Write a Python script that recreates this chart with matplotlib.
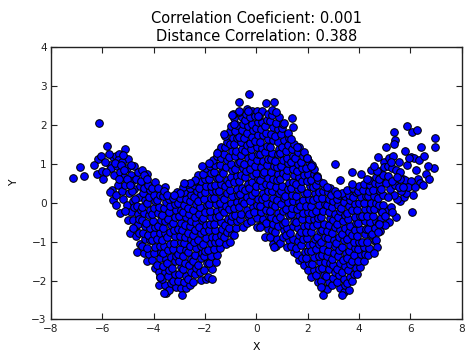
import matplotlib
matplotlib.use("Agg")
import matplotlib.pyplot as plt
import numpy as np

title_lines = ["Correlation Coeficient: 0.001", "Distance Correlation: 0.388"]
x_label = "X"
y_label = "Y"
x_ticks = [-8, -6, -4, -2, 0, 2, 4, 6, 8]
y_ticks = [-3, -2, -1, 0, 1, 2, 3, 4]

# sparse left tail
tail_left = [
    (-7.15, 0.64), (-6.87, 0.91), (-6.71, 0.68), (-6.11, 2.05), (-6.15, 1.11), (-6.19, 0.75), (-6.02, 0.82), (-5.96, 0.62),
    (-5.81, 1.45), (-5.72, 0.98), (-5.66, 0.88), (-5.58, 1.18), (-5.46, 1.21), (-5.34, 1.26), (-5.40, 1.10), (-5.11, 1.37),
    (-4.98, 1.13), (-5.22, 1.05), (-5.42, 0.95), (-5.55, 0.72), (-5.30, 0.80), (-5.15, 0.65), (-5.05, 0.88), (-4.90, 0.72),
    (-4.78, 0.95), (-4.85, 0.55), (-4.70, 0.62), (-4.62, 0.80), (-4.24, 0.73), (-4.34, 0.66), (-3.57, 0.41), (-5.63, 0.32),
    (-5.72, 0.27), (-5.57, 0.07), (-5.30, -0.26), (-5.40, 0.45), (-5.48, 0.20), (-5.25, 0.30), (-5.10, 0.45), (-5.18, 0.10),
    (-5.05, -0.05), (-4.95, 0.25), (-4.94, -0.79), (-5.00, -0.45), (-4.88, -0.25), (-4.80, 0.05), (-4.75, 0.35), (-4.65, -1.26),
    (-4.55, -1.07), (-4.70, -0.60), (-4.62, -0.30), (-4.58, 0.15), (-4.52, 0.42), (-6.32, 0.98), (-6.05, 1.20), (-5.90, 1.05),
    (-5.85, 0.80), (-5.75, 1.25), (-5.52, 1.02), (-5.28, 0.98), (-5.20, 1.22), (-5.35, 0.62), (-5.02, 0.62), (-4.85, 0.30),
    (-4.72, 0.10), (-4.82, -0.45), (-4.68, -0.85), (-4.60, -0.55), (-5.12, -0.22), (-4.92, 0.45), (-5.45, -0.05), (-4.78, -0.12),
    (-4.66, -0.08), (-4.58, -0.78), (-5.15, 0.85), (-4.88, 0.98), (-4.45, 0.85), (-4.80, -0.65), (-4.50, -0.20), (-4.56, -0.42),
]

# left trough (x from about -4.4 to -2.2)
trough_left = [
    (-4.37, -1.28), (-4.46, -1.12), (-4.35, -0.93), (-4.42, -0.78), (-4.32, -0.60), (-4.44, -0.45), (-4.39, -0.26), (-4.47, -0.10),
    (-4.34, 0.07), (-4.43, 0.24), (-4.36, 0.37), (-4.48, 0.56), (-4.38, 0.70),
    (-4.24, -1.50), (-4.19, -1.31), (-4.27, -1.16), (-4.14, -0.97), (-4.23, -0.84), (-4.16, -0.65), (-4.28, -0.51), (-4.18, -0.32),
    (-4.13, -0.19), (-4.25, 0.00), (-4.20, 0.14), (-4.15, 0.32), (-4.21, 0.46), (-4.26, 0.61),
    (-3.96, -1.68), (-4.08, -1.47), (-3.98, -1.29), (-3.93, -1.13), (-4.05, -0.95), (-4.00, -0.80), (-3.95, -0.62), (-4.01, -0.46),
    (-4.06, -0.29), (-3.97, -0.13), (-3.93, 0.04), (-3.97, 0.19), (-4.06, 0.37), (-3.95, 0.52),
    (-3.80, -2.12), (-3.75, -1.92), (-3.81, -1.77), (-3.86, -1.59), (-3.77, -1.43), (-3.73, -1.26), (-3.77, -1.11), (-3.86, -0.93),
    (-3.75, -0.78), (-3.82, -0.60), (-3.72, -0.45), (-3.84, -0.27), (-3.79, -0.12), (-3.87, 0.06), (-3.74, 0.21), (-3.83, 0.38),
    (-3.53, -2.31), (-3.57, -2.11), (-3.66, -1.96), (-3.55, -1.79), (-3.62, -1.63), (-3.52, -1.45), (-3.64, -1.30), (-3.59, -1.12),
    (-3.67, -0.97), (-3.54, -0.79), (-3.63, -0.64), (-3.56, -0.46), (-3.68, -0.31), (-3.58, -0.13), (-3.53, 0.03), (-3.65, 0.17),
    (-3.60, 0.30),
    (-3.42, -2.24), (-3.32, -2.06), (-3.44, -1.89), (-3.39, -1.73), (-3.47, -1.55), (-3.34, -1.40), (-3.43, -1.22), (-3.36, -1.07),
    (-3.48, -0.89), (-3.38, -0.74), (-3.33, -0.56), (-3.45, -0.41), (-3.40, -0.23), (-3.35, -0.08), (-3.41, 0.09), (-3.46, 0.19),
    (-3.14, -2.17), (-3.23, -2.02), (-3.16, -1.84), (-3.28, -1.69), (-3.18, -1.51), (-3.13, -1.36), (-3.25, -1.18), (-3.20, -1.03),
    (-3.15, -0.85), (-3.21, -0.70), (-3.26, -0.52), (-3.17, -0.37), (-3.13, -0.19), (-3.17, -0.04), (-3.26, 0.12),
    (-2.93, -2.20), (-3.05, -2.01), (-3.00, -1.84), (-2.95, -1.66), (-3.01, -1.51), (-3.06, -1.33), (-2.97, -1.18), (-2.93, -1.00),
    (-2.97, -0.85), (-3.06, -0.67), (-2.95, -0.52), (-3.02, -0.34), (-2.92, -0.19), (-3.04, -0.01), (-2.99, 0.13), (-3.07, 0.27),
    (-2.75, -2.19), (-2.82, -2.03), (-2.72, -1.88), (-2.84, -1.70), (-2.79, -1.55), (-2.87, -1.37), (-2.74, -1.22),
    (-2.83, -1.04), (-2.76, -0.89), (-2.88, -0.71), (-2.78, -0.56), (-2.73, -0.38), (-2.85, -0.23), (-2.80, -0.05), (-2.75, 0.10),
    (-2.81, 0.28), (-2.86, 0.41),
    (-2.59, -2.12), (-2.67, -1.95), (-2.54, -1.78), (-2.63, -1.60), (-2.56, -1.45), (-2.68, -1.27), (-2.58, -1.12), (-2.53, -0.94),
    (-2.65, -0.79), (-2.60, -0.61), (-2.55, -0.46), (-2.61, -0.28), (-2.66, -0.13), (-2.57, 0.05), (-2.53, 0.19), (-2.57, 0.37),
    (-2.66, 0.49),
    (-2.48, -2.03), (-2.38, -1.83), (-2.33, -1.68), (-2.45, -1.50), (-2.40, -1.35), (-2.35, -1.17), (-2.41, -1.02), (-2.46, -0.84),
    (-2.37, -0.69), (-2.33, -0.51), (-2.37, -0.36), (-2.46, -0.18), (-2.35, -0.03), (-2.42, 0.15), (-2.32, 0.29), (-2.44, 0.46),
    (-2.39, 0.57),
    (-2.15, -1.98), (-2.21, -1.78), (-2.26, -1.61), (-2.17, -1.43), (-2.13, -1.28), (-2.17, -1.10), (-2.26, -0.95), (-2.15, -0.77),
    (-2.22, -0.62), (-2.12, -0.44), (-2.24, -0.29), (-2.19, -0.11), (-2.27, 0.04), (-2.14, 0.22), (-2.23, 0.37), (-2.16, 0.55),
    (-2.28, 0.71),
]

# central hump (x from about -2 to 2)
hump = [
    (-1.95, -1.95), (-2.02, -1.73), (-1.92, -1.56), (-2.04, -1.38), (-1.99, -1.23), (-2.07, -1.05), (-1.94, -0.90), (-2.03, -0.72),
    (-1.96, -0.57), (-2.08, -0.39), (-1.98, -0.24), (-1.93, -0.06), (-2.05, 0.09), (-2.00, 0.27), (-1.95, 0.42), (-2.01, 0.60),
    (-2.06, 0.74), (-1.97, 0.89),
    (-1.87, -1.90), (-1.74, -1.70), (-1.83, -1.54), (-1.76, -1.36), (-1.88, -1.21), (-1.78, -1.03), (-1.73, -0.88), (-1.85, -0.70),
    (-1.80, -0.55), (-1.75, -0.37), (-1.81, -0.22), (-1.86, -0.04), (-1.77, 0.11), (-1.73, 0.29), (-1.77, 0.44), (-1.86, 0.62),
    (-1.75, 0.77), (-1.82, 0.93), (-1.72, 1.02),
    (-1.58, -1.52), (-1.53, -1.35), (-1.65, -1.20), (-1.60, -1.02), (-1.55, -0.87), (-1.61, -0.69), (-1.66, -0.54), (-1.57, -0.36),
    (-1.53, -0.21), (-1.57, -0.03), (-1.66, 0.12), (-1.55, 0.30), (-1.62, 0.45), (-1.52, 0.63), (-1.64, 0.78), (-1.59, 0.96),
    (-1.67, 1.10), (-1.54, 1.21),
    (-1.41, -1.17), (-1.46, -1.01), (-1.37, -0.83), (-1.33, -0.68), (-1.37, -0.50), (-1.46, -0.35), (-1.35, -0.17), (-1.42, -0.02),
    (-1.32, 0.16), (-1.44, 0.31), (-1.39, 0.49), (-1.47, 0.64), (-1.34, 0.82), (-1.43, 0.97), (-1.36, 1.15), (-1.48, 1.29),
    (-1.38, 1.44),
    (-1.17, -1.06), (-1.26, -0.89), (-1.15, -0.74), (-1.22, -0.56), (-1.12, -0.41), (-1.24, -0.23), (-1.19, -0.08), (-1.27, 0.10),
    (-1.14, 0.25), (-1.23, 0.43), (-1.16, 0.58), (-1.28, 0.76), (-1.18, 0.91), (-1.13, 1.09), (-1.25, 1.24), (-1.20, 1.42),
    (-1.15, 1.57), (-1.21, 1.72),
    (-1.03, -1.00), (-0.96, -0.81), (-1.08, -0.66), (-0.98, -0.48), (-0.93, -0.33), (-1.05, -0.15), (-1.00, 0.00), (-0.95, 0.18),
    (-1.01, 0.33), (-1.06, 0.51), (-0.97, 0.66), (-0.93, 0.84), (-0.97, 0.99), (-1.06, 1.17), (-0.95, 1.32), (-1.02, 1.50),
    (-0.92, 1.65), (-1.04, 1.83), (-0.99, 1.97),
    (-0.85, -0.82), (-0.80, -0.64), (-0.75, -0.46), (-0.81, -0.31), (-0.86, -0.13), (-0.77, 0.02), (-0.73, 0.20), (-0.77, 0.35),
    (-0.86, 0.53), (-0.75, 0.68), (-0.82, 0.86), (-0.72, 1.01), (-0.84, 1.19), (-0.79, 1.34), (-0.87, 1.52), (-0.74, 1.67),
    (-0.83, 1.85), (-0.76, 2.00), (-0.88, 2.17),
    (-0.52, -0.62), (-0.64, -0.43), (-0.59, -0.28), (-0.67, -0.10), (-0.54, 0.05), (-0.63, 0.23), (-0.56, 0.38), (-0.68, 0.56),
    (-0.58, 0.71), (-0.53, 0.89), (-0.65, 1.04), (-0.60, 1.22), (-0.55, 1.37), (-0.61, 1.55), (-0.66, 1.70), (-0.57, 1.88),
    (-0.53, 2.03), (-0.57, 2.21), (-0.66, 2.34),
    (-0.37, -0.52), (-0.33, -0.33), (-0.37, -0.18), (-0.46, 0.00), (-0.35, 0.15), (-0.42, 0.33), (-0.32, 0.48), (-0.44, 0.66),
    (-0.39, 0.81), (-0.47, 0.99), (-0.34, 1.14), (-0.43, 1.32), (-0.36, 1.47), (-0.48, 1.65), (-0.38, 1.80), (-0.33, 1.98),
    (-0.45, 2.13), (-0.40, 2.29), (-0.35, 2.41),
    (-0.19, -0.47), (-0.27, -0.28), (-0.14, -0.12), (-0.23, 0.05), (-0.16, 0.21), (-0.28, 0.38), (-0.18, 0.54), (-0.13, 0.71),
    (-0.25, 0.87), (-0.20, 1.04), (-0.15, 1.20), (-0.21, 1.37), (-0.26, 1.53), (-0.17, 1.70), (-0.13, 1.86), (-0.17, 2.03),
    (-0.26, 2.19), (-0.15, 2.36),
    (0.04, -0.40), (-0.08, -0.23), (0.02, -0.06), (0.07, 0.10), (-0.05, 0.27), (0.00, 0.43), (0.05, 0.60), (-0.01, 0.76),
    (-0.06, 0.93), (0.03, 1.09), (0.07, 1.26), (0.03, 1.42), (-0.06, 1.59), (0.05, 1.75), (-0.02, 1.92), (0.08, 2.08),
    (-0.04, 2.23), (0.01, 2.35),
    (0.20, -0.58), (0.25, -0.41), (0.19, -0.24), (0.14, -0.08), (0.23, 0.09), (0.27, 0.25), (0.23, 0.42), (0.14, 0.58),
    (0.25, 0.75), (0.18, 0.91), (0.28, 1.08), (0.16, 1.24), (0.21, 1.41), (0.13, 1.57), (0.26, 1.74), (0.17, 1.90),
    (0.24, 2.07), (0.12, 2.22), (0.22, 2.36),
    (0.34, -0.87), (0.45, -0.68), (0.38, -0.52), (0.48, -0.35), (0.36, -0.19), (0.41, -0.02), (0.33, 0.14), (0.46, 0.31),
    (0.37, 0.47), (0.44, 0.64), (0.32, 0.80), (0.42, 0.97), (0.47, 1.13), (0.35, 1.30), (0.40, 1.46), (0.45, 1.63),
    (0.39, 1.79), (0.34, 1.96), (0.43, 2.12), (0.47, 2.28),
    (0.67, -1.05), (0.55, -0.87), (0.60, -0.70), (0.65, -0.54), (0.59, -0.37), (0.54, -0.21), (0.63, -0.04), (0.67, 0.12),
    (0.63, 0.29), (0.54, 0.45), (0.65, 0.62), (0.58, 0.78), (0.68, 0.95), (0.56, 1.11), (0.61, 1.28), (0.53, 1.44),
    (0.66, 1.61), (0.57, 1.77), (0.64, 1.94), (0.52, 2.10), (0.62, 2.26),
    (0.76, -1.10), (0.81, -0.92), (0.73, -0.74), (0.86, -0.59), (0.77, -0.41), (0.84, -0.26), (0.72, -0.08), (0.82, 0.07),
    (0.87, 0.25), (0.75, 0.40), (0.80, 0.58), (0.85, 0.73), (0.79, 0.91), (0.74, 1.06), (0.83, 1.24), (0.87, 1.39),
    (0.83, 1.57), (0.74, 1.72), (0.85, 1.90), (0.78, 2.05), (0.88, 2.21),
    (0.94, -1.03), (1.03, -0.88), (1.07, -0.70), (1.03, -0.55), (0.94, -0.37), (1.05, -0.22), (0.98, -0.04), (1.08, 0.11),
    (0.96, 0.29), (1.01, 0.44), (0.93, 0.62), (1.06, 0.77), (0.97, 0.95), (1.04, 1.10), (0.92, 1.28), (1.02, 1.43),
    (1.07, 1.61), (0.95, 1.76), (1.00, 1.91), (1.05, 2.03),
    (1.18, -1.14), (1.28, -0.97), (1.16, -0.82), (1.21, -0.64), (1.13, -0.49), (1.26, -0.31), (1.17, -0.16), (1.24, 0.02),
    (1.12, 0.17), (1.22, 0.35), (1.27, 0.50), (1.15, 0.68), (1.20, 0.83), (1.25, 1.01), (1.19, 1.16), (1.14, 1.34),
    (1.23, 1.49), (1.27, 1.65), (1.23, 1.80),
    (1.46, -1.27), (1.37, -1.12), (1.44, -0.94), (1.32, -0.79), (1.42, -0.61), (1.47, -0.46), (1.35, -0.28), (1.40, -0.13),
    (1.45, 0.05), (1.39, 0.20), (1.34, 0.38), (1.43, 0.53), (1.47, 0.71), (1.43, 0.86), (1.34, 1.04), (1.45, 1.19),
    (1.38, 1.37), (1.48, 1.52), (1.36, 1.64),
    (1.65, -1.48), (1.59, -1.31), (1.54, -1.16), (1.63, -0.98), (1.67, -0.83), (1.63, -0.65), (1.54, -0.50), (1.65, -0.32),
    (1.58, -0.17), (1.68, 0.01), (1.56, 0.16), (1.61, 0.34), (1.53, 0.49), (1.66, 0.67), (1.57, 0.82), (1.64, 1.00),
    (1.52, 1.15), (1.62, 1.31), (1.67, 1.43),
    (1.85, -1.60), (1.78, -1.41), (1.88, -1.26), (1.76, -1.08), (1.81, -0.93), (1.73, -0.75), (1.86, -0.60), (1.77, -0.42),
    (1.84, -0.27), (1.72, -0.09), (1.82, 0.06), (1.87, 0.24), (1.75, 0.39), (1.80, 0.57), (1.85, 0.72), (1.79, 0.90),
    (1.74, 1.05), (1.83, 1.19), (1.87, 1.29),
    (2.02, -1.73), (2.07, -1.56), (1.95, -1.41), (2.00, -1.23), (2.05, -1.08), (1.99, -0.90), (1.94, -0.75), (2.03, -0.57),
    (2.07, -0.42), (2.03, -0.24), (1.94, -0.09), (2.05, 0.09), (1.98, 0.24), (2.08, 0.42), (1.96, 0.57), (2.01, 0.75),
    (1.93, 0.90), (2.06, 1.04), (1.97, 1.14),
]

# right trough (x from about 2.2 to 4.8)
trough_right = [
    (2.13, -1.92), (2.26, -1.73), (2.17, -1.58), (2.24, -1.40), (2.12, -1.25), (2.22, -1.07), (2.27, -0.92), (2.15, -0.74),
    (2.20, -0.59), (2.25, -0.41), (2.19, -0.26), (2.14, -0.08), (2.23, 0.07), (2.27, 0.25), (2.23, 0.40), (2.14, 0.58),
    (2.25, 0.73), (2.25, 0.86), (2.17, 0.96),
    (2.39, -2.04), (2.34, -1.86), (2.43, -1.71), (2.47, -1.53), (2.43, -1.38), (2.34, -1.20), (2.45, -1.05), (2.38, -0.87),
    (2.48, -0.72), (2.36, -0.54), (2.41, -0.39), (2.33, -0.21), (2.46, -0.06), (2.37, 0.12), (2.44, 0.27), (2.32, 0.45),
    (2.42, 0.58), (2.36, 0.68),
    (2.63, -2.18), (2.54, -2.01), (2.65, -1.86), (2.58, -1.68), (2.68, -1.53), (2.56, -1.35), (2.61, -1.20), (2.53, -1.02),
    (2.66, -0.87), (2.57, -0.69), (2.64, -0.54), (2.52, -0.36), (2.62, -0.21), (2.67, -0.03), (2.55, 0.12), (2.60, 0.30),
    (2.65, 0.43), (2.59, 0.51),
    (2.77, -2.22), (2.84, -2.04), (2.72, -1.89), (2.82, -1.71), (2.87, -1.56), (2.75, -1.38), (2.80, -1.23), (2.85, -1.05),
    (2.79, -0.90), (2.74, -0.72), (2.83, -0.57), (2.87, -0.39), (2.83, -0.24), (2.74, -0.06), (2.85, 0.09), (2.78, 0.27),
    (2.88, 0.39),
    (2.95, -2.12), (3.00, -1.94), (3.05, -1.77), (2.99, -1.61), (2.94, -1.44), (3.03, -1.28), (3.07, -1.11), (3.03, -0.95),
    (2.94, -0.78), (3.05, -0.62), (2.98, -0.45), (3.08, -0.29), (2.96, -0.12), (3.01, 0.04), (2.93, 0.19), (3.06, 0.29),
    (3.28, -2.20), (3.16, -2.03), (3.21, -1.87), (3.13, -1.70), (3.26, -1.54), (3.17, -1.37), (3.24, -1.21), (3.12, -1.04),
    (3.22, -0.88), (3.27, -0.71), (3.15, -0.55), (3.20, -0.38), (3.25, -0.22), (3.19, -0.05), (3.14, 0.10), (3.23, 0.21),
    (3.43, -2.30), (3.47, -2.12), (3.43, -1.96), (3.34, -1.79), (3.45, -1.63), (3.38, -1.46), (3.48, -1.30), (3.36, -1.13),
    (3.41, -0.97), (3.33, -0.80), (3.46, -0.64), (3.37, -0.47), (3.44, -0.31), (3.32, -0.14), (3.42, 0.02), (3.47, 0.16),
    (3.35, 0.25),
    (3.61, -2.24), (3.53, -2.07), (3.66, -1.91), (3.57, -1.74), (3.64, -1.58), (3.52, -1.41), (3.62, -1.25), (3.67, -1.08),
    (3.55, -0.92), (3.60, -0.75), (3.65, -0.59), (3.59, -0.42), (3.54, -0.26), (3.63, -0.09), (3.67, 0.07), (3.63, 0.21),
    (3.54, 0.32),
    (3.72, -2.01), (3.82, -1.83), (3.87, -1.68), (3.75, -1.50), (3.80, -1.35), (3.85, -1.17), (3.79, -1.02), (3.74, -0.84),
    (3.83, -0.69), (3.87, -0.51), (3.83, -0.36), (3.74, -0.18), (3.85, -0.03), (3.78, 0.15), (3.88, 0.28), (3.76, 0.38),
    (3.94, -1.84), (4.05, -1.66), (3.98, -1.51), (4.08, -1.33), (3.96, -1.18), (4.01, -1.00), (3.93, -0.85), (4.06, -0.67),
    (3.97, -0.52), (4.04, -0.34), (3.92, -0.19), (4.02, -0.01), (4.07, 0.14), (3.95, 0.31), (4.00, 0.44),
    (4.20, -1.49), (4.25, -1.33), (4.19, -1.14), (4.14, -1.00), (4.23, -0.81), (4.27, -0.67), (4.23, -0.48), (4.14, -0.34),
    (4.25, -0.15), (4.18, -0.01), (4.28, 0.18), (4.16, 0.32), (4.21, 0.48),
    (4.36, -1.34), (4.41, -1.16), (4.33, -1.01), (4.46, -0.83), (4.37, -0.68), (4.44, -0.50), (4.32, -0.35), (4.42, -0.17),
    (4.47, -0.02), (4.35, 0.16), (4.40, 0.31), (4.45, 0.46), (4.39, 0.58),
    (4.64, -0.98), (4.52, -0.81), (4.62, -0.66), (4.67, -0.48), (4.55, -0.33), (4.60, -0.15), (4.65, 0.00), (4.59, 0.18),
    (4.54, 0.33), (4.63, 0.51), (4.67, 0.67),
    (4.83, -0.72), (4.77, -0.53), (4.86, -0.22), (4.80, -0.05), (4.75, 0.12), (4.84, 0.30), (4.78, 0.47), (4.88, 0.66),
    (4.81, 0.82),
]

# sparse right tail
tail_right = [
    (3.07, 0.99), (3.25, 0.58), (3.72, 0.79), (3.75, 0.48), (4.10, 0.75), (4.33, 0.62), (4.49, 0.84), (4.76, 1.18),
    (4.98, 1.05), (5.07, 1.44), (5.18, 1.14), (5.31, 1.20), (5.40, 1.61), (5.35, 1.52), (5.37, 1.82), (5.57, 1.05),
    (5.79, 1.33), (5.86, 1.97), (5.89, 0.97), (6.02, 1.18), (6.05, 1.82), (6.28, 1.87), (6.41, 1.44), (6.15, 1.14),
    (6.35, 1.10), (6.22, 0.84), (6.61, 0.75), (6.96, 1.67), (6.98, 1.44), (6.91, 0.88), (6.74, 0.60), (6.30, 0.62),
    (6.40, 0.50), (6.12, 0.21), (6.05, -0.23), (5.70, 0.62), (5.80, 0.58), (5.62, 0.60), (4.99, 0.92), (5.15, 0.95),
    (5.30, 0.90), (5.45, 0.85), (5.25, 1.05), (5.60, 0.78), (5.44, -0.38), (5.18, -0.49), (5.01, -0.58), (5.10, -0.20),
    (5.25, -0.10), (5.60, 0.05), (5.75, 0.15), (5.85, 0.25), (5.65, 0.30), (5.50, 0.10), (5.35, 0.20), (5.20, 0.35),
    (5.05, 0.50), (4.95, 0.20), (4.92, -0.05), (5.40, 0.45), (5.55, 0.40), (6.48, 0.45), (6.02, 0.55), (5.92, 0.40),
    (4.75, -0.75), (4.66, -0.96), (4.72, -1.13), (4.57, -1.29), (4.85, -0.40), (4.90, -0.25), (5.00, -0.35), (4.80, 0.60),
    (4.95, 0.70), (4.70, 0.82), (5.12, 0.68), (5.28, 0.55), (5.48, 0.65), (4.85, 0.35), (5.15, 0.15), (5.30, -0.25),
    (4.78, -0.55), (4.60, 0.95), (5.70, 0.40), (6.20, 0.40), (6.55, 1.20), (5.95, 1.15), (6.70, 0.95),
]

# scattered edge points around the main band
edge_points = [
    (-0.27, 2.80), (-0.68, 2.59), (-0.90, 2.28), (-0.68, 2.36), (-0.33, 2.36), (0.36, 2.55), (0.68, 2.59), (0.62, 2.38),
    (0.75, 2.33), (0.07, 2.23), (1.40, 2.18), (1.44, 1.94), (1.07, 2.04), (-1.27, 1.76), (-1.53, 1.27), (-1.86, 1.01),
    (-2.11, 0.94), (-2.38, 0.58), (-2.57, 0.50), (-2.83, 0.50), (-2.96, 0.24), (-3.22, 0.20), (1.59, 1.44), (1.98, 1.16),
    (2.12, 0.95), (2.38, 0.67), (2.77, 0.41), (3.16, 0.22), (-0.95, 2.25), (-0.88, 2.03), (-2.89, -2.38), (-3.59, -2.33),
    (2.62, -2.38), (3.36, -2.38), (0.03, -0.62), (0.16, -0.62), (0.68, -1.13), (-1.72, -1.95), (-3.74, -1.92), (2.51, -2.16),
]

points = np.array(tail_left + trough_left + hump + trough_right + tail_right + edge_points)

fig = plt.figure(figsize=(4.74, 3.64), dpi=100)
ax = fig.add_axes([0.1076, 0.1223, 0.8661, 0.7486])
ax.scatter(points[:, 0], points[:, 1], s=30, c="#0000ff", edgecolors="k", linewidths=0.75, zorder=2)

ax.set_xlim(-8, 8)
ax.set_ylim(-3, 4)
ax.set_xticks(x_ticks)
ax.set_yticks(y_ticks)
ax.tick_params(direction="in", length=4.5, width=0.8, top=True, right=True,
               labelsize=7.6, pad=3, colors="#222222")
for sp in ax.spines.values():
    sp.set_linewidth(1.0)
    sp.set_color("#222222")
ax.set_xlabel(x_label, fontsize=7.8, labelpad=6)
ax.set_ylabel(y_label, fontsize=7.8, labelpad=9)
ax.set_title("\n".join(title_lines), fontsize=10.5, pad=4, linespacing=1.25)

fig.savefig("out.png", dpi=100, facecolor="white")
